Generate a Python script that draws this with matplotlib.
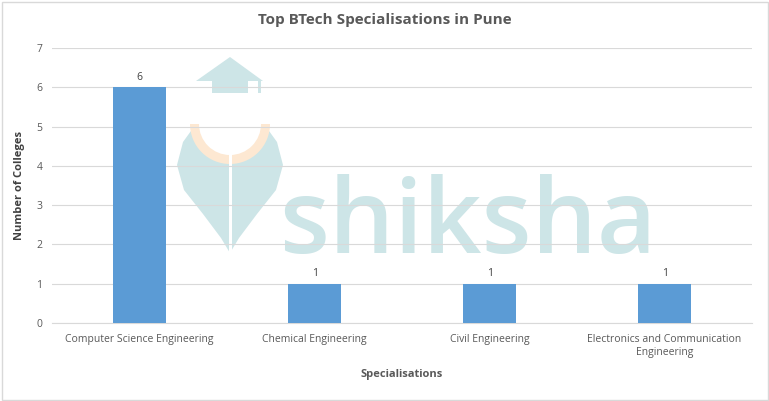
import matplotlib.pyplot as plt
from matplotlib.patches import Polygon, Rectangle, Circle, Wedge

categories = ['Computer Science Engineering', 'Chemical Engineering',
              'Civil Engineering', 'Electronics and Communication\nEngineering']
colleges = [6, 1, 1, 1]

plt.rcParams['font.family'] = ['Open Sans', 'DejaVu Sans']

TEAL = '#cde5e7'
PEACH = '#fde8d2'

fig = plt.figure(figsize=(7.69, 4.01), dpi=100)

# background layer in pixel coordinates for the watermark logo
bg = fig.add_axes([0, 0, 1, 1], zorder=0)
bg.set_xlim(0, 769)
bg.set_ylim(401, 0)
bg.axis('off')
bg.add_patch(Polygon([[230, 57], [263, 81], [196, 81]], facecolor=TEAL, edgecolor='none'))
bg.add_patch(Rectangle((212, 81), 36, 12, facecolor=TEAL, edgecolor='none'))
bg.add_patch(Rectangle((258, 81), 3, 12, facecolor=TEAL, edgecolor='none'))
bg.add_patch(Polygon([[196, 124], [183, 142], [177, 165], [184, 190], [203, 214],
                      [221, 238], [230, 253], [239, 238], [257, 214], [276, 190],
                      [283, 165], [277, 142], [264, 124]],
                     facecolor=TEAL, edgecolor='none'))
bg.add_patch(Wedge((230, 124), 40, 0, 180, facecolor=PEACH, edgecolor='none'))
bg.add_patch(Circle((230, 124), 31, facecolor='white', edgecolor='none'))
bg.add_patch(Rectangle((228.5, 150), 3, 105, facecolor='white', edgecolor='none'))
bg.text(279, 253, 'shiksha', fontsize=74, fontweight='semibold', color=TEAL,
        ha='left', va='baseline')
bg.add_patch(Rectangle((1.5, 1.5), 766, 398, facecolor='none', edgecolor='#d9d9d9', linewidth=1))

ax = fig.add_axes([0.0676, 0.1945, 0.9104, 0.6855], zorder=1)
ax.patch.set_alpha(0)
bars = ax.bar(range(len(categories)), colleges, width=0.30, color='#5b9bd5', zorder=3)
for b, v in zip(bars, colleges):
    ax.text(b.get_x() + b.get_width() / 2, v + 0.12, str(v), ha='center', va='bottom',
            fontsize=7.5, color='#404040')

ax.set_ylim(0, 7)
ax.set_xlim(-0.5, len(categories) - 0.5)
ax.set_yticks(range(0, 8))
ax.grid(axis='y', color='#d9d9d9', linewidth=0.8, zorder=1)
ax.set_axisbelow(True)
for s in ['top', 'right', 'left']:
    ax.spines[s].set_visible(False)
ax.spines['bottom'].set_color('#d9d9d9')
ax.tick_params(axis='both', length=0, labelsize=7.5, labelcolor='#595959')
ax.tick_params(axis='y', pad=7)
ax.tick_params(axis='x', pad=8)
ax.set_xticks(range(len(categories)))
ax.set_xticklabels(categories)

fig.text(0.5, 0.95, 'Top BTech Specialisations in Pune', fontsize=11, fontweight='bold',
         color='#595959', ha='center', va='center')
ax.set_xlabel('Specialisations', fontsize=8, fontweight='bold', color='#595959', labelpad=8)
ax.set_ylabel('Number of Colleges', fontsize=8, fontweight='bold', color='#404040')
ax.yaxis.set_label_coords(-0.039, 0.5)

fig.savefig('out.png', dpi=100)
